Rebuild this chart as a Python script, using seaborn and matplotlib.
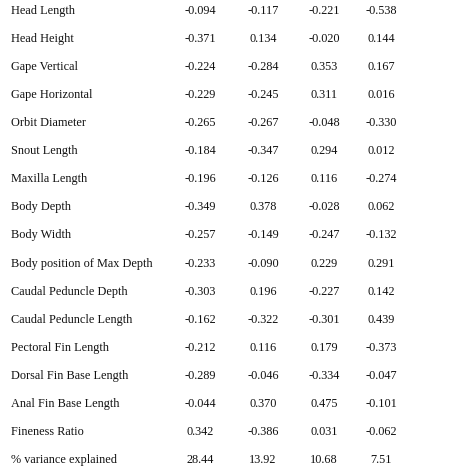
import matplotlib
matplotlib.use("Agg")
import matplotlib.pyplot as plt
import seaborn as sns

sns.set_theme(style="white")
plt.rcParams['font.family'] = ['Liberation Serif', 'DejaVu Serif']

traits = ["Head Length", "Head Height", "Gape Vertical", "Gape Horizontal", "Orbit Diameter",
          "Snout Length", "Maxilla Length", "Body Depth", "Body Width", "Body position of Max Depth",
          "Caudal Peduncle Depth", "Caudal Peduncle Length", "Pectoral Fin Length",
          "Dorsal Fin Base Length", "Anal Fin Base Length", "Fineness Ratio", "% variance explained"]
pc1 = ["-0.094", "-0.371", "-0.224", "-0.229", "-0.265", "-0.184", "-0.196", "-0.349", "-0.257",
       "-0.233", "-0.303", "-0.162", "-0.212", "-0.289", "-0.044", "0.342", "28.44"]
pc2 = ["-0.117", "0.134", "-0.284", "-0.245", "-0.267", "-0.347", "-0.126", "0.378", "-0.149",
       "-0.090", "0.196", "-0.322", "0.116", "-0.046", "0.370", "-0.386", "13.92"]
pc3 = ["-0.221", "-0.020", "0.353", "0.311", "-0.048", "0.294", "0.116", "-0.028", "-0.247",
       "0.229", "-0.227", "-0.301", "0.179", "-0.334", "0.475", "0.031", "10.68"]
pc4 = ["-0.538", "0.144", "0.167", "0.016", "-0.330", "0.012", "-0.274", "0.062", "-0.132",
       "0.291", "0.142", "0.439", "-0.373", "-0.047", "-0.101", "-0.062", "7.51"]

fig = plt.figure(figsize=(4.74, 4.74), dpi=100)
ax = fig.add_axes([0, 0, 1, 1])
ax.set_xlim(0, 474)
ax.set_ylim(474, 0)
ax.axis("off")

ys = [11 + i * 28.06 for i in range(len(traits))]
cols = [(200, pc1), (263, pc2), (324, pc3), (381, pc4)]
for i, y in enumerate(ys):
    ax.text(11, y, traits[i], ha="left", va="center", fontsize=8.8, color="#111111")
    for x, vals in cols:
        ax.text(x, y, vals[i], ha="center", va="center", fontsize=8.8, color="#111111")

fig.savefig("out.png", dpi=100, facecolor="white")
